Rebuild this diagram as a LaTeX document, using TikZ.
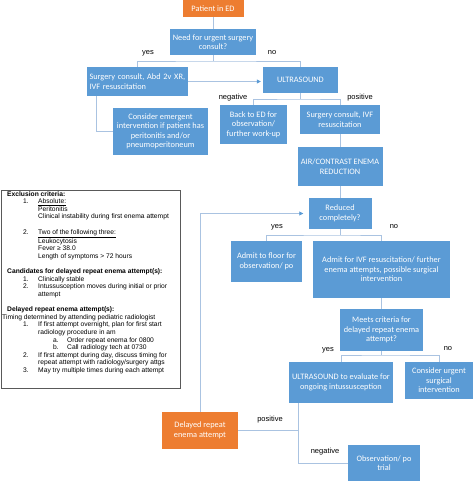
\documentclass[tikz,border=0pt]{standalone}
\usepackage{fontspec}
\setmainfont{Liberation Sans}
\newfontfamily\boxfont{Carlito}
\usetikzlibrary{arrows.meta}

\definecolor{boxblue}{RGB}{91,155,213}
\definecolor{boxorange}{RGB}{237,125,49}
\definecolor{linkblue}{RGB}{170,195,225}

% indented list lines of the criteria box
\newcommand{\numitem}[2]{\hspace*{16pt}\makebox[15pt][l]{#1}#2}
\newcommand{\numtext}[1]{\hspace*{31pt}#1}
\newcommand{\letitem}[2]{\hspace*{46pt}\makebox[14pt][l]{#1}#2}

\begin{document}
\begin{tikzpicture}[x=1pt, y=-1pt,
    stepbox/.style={fill=boxblue, text=white, font=\boxfont\fontsize{8.3}{9.5}\selectfont, align=center, inner sep=1pt},
    startbox/.style={stepbox, fill=boxorange},
    link/.style={linkblue, line width=0.8pt},
    arrowlink/.style={link, -{Triangle[length=4pt,width=4pt,color=boxblue]}},
    branch/.style={font=\fontsize{7.5}{9}\selectfont, inner sep=0pt}]

    \useasboundingbox (0,0) rectangle (474,483);

    % flow boxes
    \node[startbox, minimum width=61pt, minimum height=17pt] (patient) at (213,8.5) {Patient in ED};
    \node[stepbox, minimum width=86pt, minimum height=26pt] (need) at (213,42) {Need for urgent surgery\\consult?};
    \node[stepbox, align=left, text width=100pt, inner xsep=0.5pt, minimum height=29pt] (surgery) at (137.5,81.5) {\hspace*{2pt}Surgery consult, Abd 2v XR,\\\hspace*{2pt}IVF resuscitation};
    \node[stepbox, minimum width=75pt, minimum height=26pt] (ultrasound) at (300.5,80) {ULTRASOUND};
    \node[stepbox, minimum width=95pt, minimum height=47pt] (emergent) at (160.5,131.5) {Consider emergent\\intervention if patient has\\peritonitis and/or\\pneumoperitoneum};
    \node[stepbox, minimum width=67pt, minimum height=39pt] (backed) at (253.5,124.5) {Back to ED for\\observation/\\further work-up};
    \node[stepbox, minimum width=80pt, minimum height=29pt] (consult) at (340,119.5) {Surgery consult, IVF\\resuscitation};
    \node[stepbox, minimum width=85pt, minimum height=39pt] (enema) at (340,166.5) {AIR/CONTRAST ENEMA\\REDUCTION};
    \node[stepbox, minimum width=63pt, minimum height=31pt] (reduced) at (340,213.5) {Reduced\\completely?};
    \node[stepbox, minimum width=71pt, minimum height=41pt] (floor) at (266.5,261.5) {Admit to floor for\\observation/ po};
    \node[stepbox, minimum width=137pt, minimum height=57pt] (admit) at (381.5,269.5) {Admit for IVF resuscitation/ further\\enema attempts, possible surgical\\intervention};
    \node[stepbox, minimum width=83pt, minimum height=42pt] (meets) at (381.5,330) {Meets criteria for\\delayed repeat enema\\attempt?};
    \node[stepbox, minimum width=104pt, minimum height=41pt] (recheck) at (341,382.5) {ULTRASOUND to evaluate for\\ongoing intussusception};
    \node[stepbox, minimum width=68pt, minimum height=37pt] (urgent) at (439,380.5) {Consider urgent\\surgical\\intervention};
    \node[startbox, minimum width=76pt, minimum height=37pt] (delayed) at (200,430.5) {Delayed repeat\\enema attempt};
    \node[stepbox, minimum width=72pt, minimum height=36pt] (observe) at (384,463) {Observation/ po\\trial};

    % branch labels
    \node[branch] (yes1) at (148,53) {yes};
    \node[branch] (no1) at (272,53) {no};
    \node[branch] (neg1) at (233,98) {negative};
    \node[branch] (pos1) at (360,98) {positive};
    \node[branch] (yes2) at (277,227) {yes};
    \node[branch] (no2) at (394,227) {no};
    \node[branch] (yes3) at (328,350) {yes};
    \node[branch] (no3) at (448,349) {no};
    \node[branch] (pos2) at (270,420) {positive};
    \node[branch] (neg2) at (325,452) {negative};

    % connectors
    \coordinate (j1) at (213,61);
    \coordinate (j2) at (300.5,99);
    \coordinate (j3) at (340,235);
    \coordinate (j4) at (381.5,355);
    \coordinate (j5) at (299,430.5);

    \draw[link] (patient.south) -- (need.north);
    \draw[link] (need.south) -- (j1);
    \draw[link] (surgery.north) |- (j1) -| (ultrasound.north);
    \draw[arrowlink, shorten >=2pt] (surgery.east) -- (surgery.east -| ultrasound.west);
    \draw[link] (ultrasound.south) -- (j2);
    \draw[link] (backed.north) |- (j2) -| (consult.north);
    \draw[link] ([xshift=10pt]surgery.south west) |- (emergent.west);
    \draw[link] (consult.south) -- (enema.north);
    \draw[link] (enema.south) -- (reduced.north);
    \draw[link] (reduced.south) -- (j3);
    \draw[link] (floor.north) |- (j3) -| (admit.north);
    \draw[link] (admit.south) -- (meets.north);
    \draw[link] (meets.south) -- (j4);
    \draw[link] (recheck.north) |- (j4) -| (urgent.north);
    \draw[link] ([xshift=10pt]recheck.south west) |- (observe.west);
    \draw[link] (delayed.east) -- (j5);
    \draw[arrowlink, shorten >=5pt] (delayed.north) |- (reduced.west);

    % criteria box
    \draw[gray!70!black, line width=0.8pt] (1,190) rectangle (180,388);
    \node[anchor=north west, align=left, inner xsep=6pt, inner ysep=0pt, font=\fontsize{6.7}{7.6}\selectfont] (criteria) at (1,191) {%
        {\bfseries Exclusion criteria:}\\
        \numitem{1.}{\underline{Absolute:}}\\
        \numtext{Peritonitis}\\
        \numtext{Clinical instability during first enema attempt}\\[7.6pt]
        \numitem{2.}{\underline{Two of the following three:}}\\
        \numtext{Leukocytosis}\\
        \numtext{Fever ≥ 38.0}\\
        \numtext{Length of symptoms > 72 hours}\\[7.6pt]
        {\bfseries Candidates for delayed repeat enema attempt(s):}\\
        \numitem{1.}{Clinically stable}\\
        \numitem{2.}{Intussusception moves during initial or prior}\\
        \numtext{attempt}\\[7.6pt]
        {\bfseries Delayed repeat enema attempt(s):}\\
        \hspace*{-5pt}Timing determined by attending pediatric radiologist\\
        \numitem{1.}{If first attempt overnight, plan for first start}\\
        \numtext{radiology procedure in am}\\
        \letitem{a.}{Order repeat enema for 0800}\\
        \letitem{b.}{Call radiology tech at 0730}\\
        \numitem{2.}{If first attempt during day, discuss timing for}\\
        \numtext{repeat attempt with radiology/surgery attgs}\\
        \numitem{3.}{May try multiple times during each attempt}};
\end{tikzpicture}
\end{document}
